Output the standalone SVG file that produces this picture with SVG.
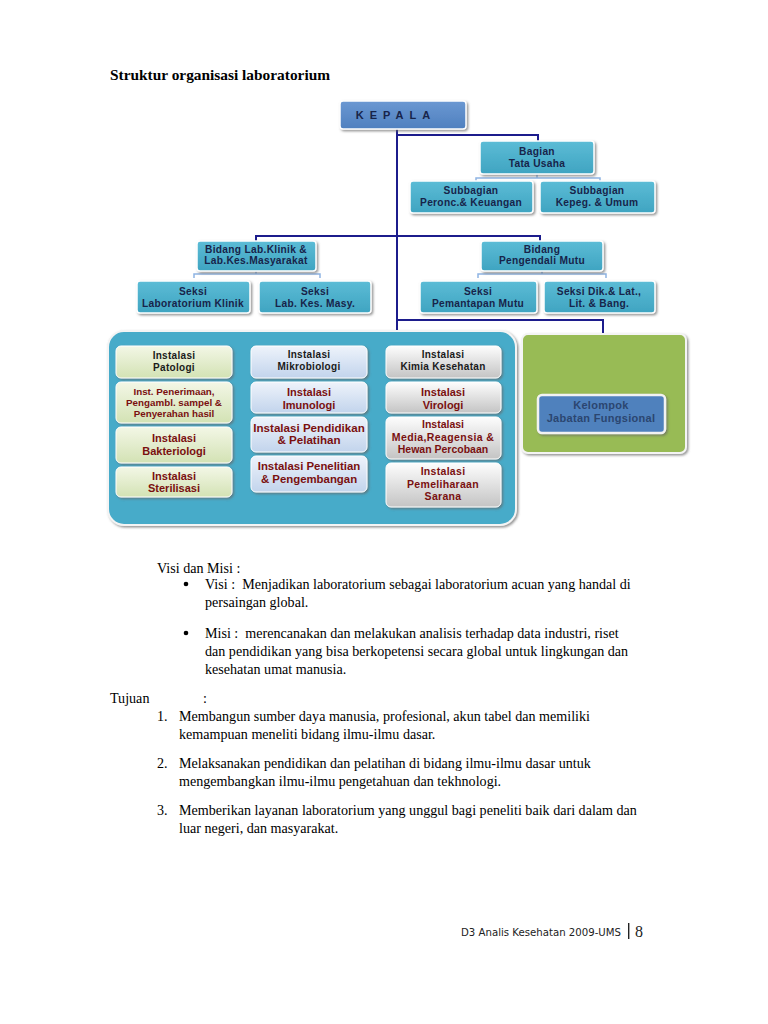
<svg xmlns="http://www.w3.org/2000/svg" width="768" height="1024" viewBox="0 0 768 1024">
<style>
.serif{font-family:"Liberation Serif","Times New Roman",serif;fill:#000;font-size:14.1px}
.lbl{font-family:"Liberation Sans",Arial,sans-serif;font-weight:bold;text-anchor:middle}
.navy{fill:#17244a;font-size:10.2px;letter-spacing:0.3px}
.blk{fill:#1a1a1a;font-size:10px;letter-spacing:0.3px}
.red{fill:#7a1010}
.teal{fill:url(#gTeal);stroke:#fff;stroke-width:1.5}
.cg{fill:url(#gGreen);stroke:#fff;stroke-width:1}
.cb{fill:url(#gBlue);stroke:#fff;stroke-width:1}
.cy{fill:url(#gGray);stroke:#fff;stroke-width:1}
.trunk{stroke:#1c1c8c;stroke-width:2;fill:none}
.brk{stroke:#8fb4e3;stroke-width:1.5;fill:none}
</style>
<defs>
<filter id="sh" x="-10%" y="-10%" width="130%" height="140%">
<feDropShadow dx="1.5" dy="1.5" stdDeviation="1" flood-color="#666" flood-opacity="0.7"/>
</filter>
<linearGradient id="gTeal" x1="0" y1="0" x2="0" y2="1"><stop offset="0" stop-color="#5cbcd6"/><stop offset="1" stop-color="#3fa4c1"/></linearGradient>
<linearGradient id="gKep" x1="0" y1="0" x2="0" y2="1"><stop offset="0" stop-color="#6b98d2"/><stop offset="1" stop-color="#4f80bf"/></linearGradient>
<linearGradient id="gGreen" x1="0" y1="0" x2="0" y2="1"><stop offset="0" stop-color="#f3f7e6"/><stop offset="1" stop-color="#d3e2b4"/></linearGradient>
<linearGradient id="gBlue" x1="0" y1="0" x2="0" y2="1"><stop offset="0" stop-color="#eef3fb"/><stop offset="1" stop-color="#c2d4ec"/></linearGradient>
<linearGradient id="gGray" x1="0" y1="0" x2="0" y2="1"><stop offset="0" stop-color="#fdfdfd"/><stop offset="1" stop-color="#c4c4c4"/></linearGradient>
</defs>
<rect width="768" height="1024" fill="#fff"/>
<text class="serif" x="110" y="80" font-weight="bold" font-size="15" textLength="220" lengthAdjust="spacingAndGlyphs">Struktur organisasi laboratorium</text>

<g id="connectors">
<path class="trunk" d="M397 129 V331 M397 135 H538 V141 M256 241 V236 H540 V241 M397 320 H603 V335"/>
<path class="brk" d="M476 182 V178 H600 V182 M537 174 V178"/>
<path class="brk" d="M194 278 V274 H320 V278 M256 270 V274"/>
<path class="brk" d="M478 278 V274 H606 V278 M542 270 V274"/>
</g>

<g id="kepala"><rect x="340" y="101" width="126" height="28" rx="3" fill="url(#gKep)" stroke="#fff" stroke-width="1.5" filter="url(#sh)"/>
<text class="lbl" x="396" y="119" fill="#17244a" font-size="11" letter-spacing="6">KEPALA</text></g>

<g id="bagian-tu"><rect class="teal" x="480" y="141" width="114" height="33" rx="3" filter="url(#sh)"/>
<text class="lbl navy" x="537" y="155">Bagian</text><text class="lbl navy" x="537" y="167">Tata Usaha</text></g>

<g id="sub-keuangan"><rect class="teal" x="410" y="181" width="123" height="32" rx="3" filter="url(#sh)"/>
<text class="lbl navy" x="471" y="194">Subbagian</text><text class="lbl navy" x="471" y="206">Peronc.&amp; Keuangan</text></g>

<g id="sub-umum"><rect class="teal" x="540" y="181" width="115" height="32" rx="3" filter="url(#sh)"/>
<text class="lbl navy" x="597" y="194">Subbagian</text><text class="lbl navy" x="597" y="206">Kepeg. &amp; Umum</text></g>

<g id="bidang-lab"><rect class="teal" x="197" y="241" width="119" height="30" rx="3" filter="url(#sh)"/>
<text class="lbl navy" x="256" y="253">Bidang Lab.Klinik &amp;</text><text class="lbl navy" x="256" y="264">Lab.Kes.Masyarakat</text></g>

<g id="bidang-mutu"><rect class="teal" x="481" y="241" width="122" height="30" rx="3" filter="url(#sh)"/>
<text class="lbl navy" x="542" y="253">Bidang</text><text class="lbl navy" x="542" y="264">Pengendali Mutu</text></g>

<g id="seksi-klinik"><rect class="teal" x="137" y="281" width="113" height="32" rx="3" filter="url(#sh)"/>
<text class="lbl navy" x="193" y="295">Seksi</text><text class="lbl navy" x="193" y="307">Laboratorium Klinik</text></g>

<g id="seksi-masy"><rect class="teal" x="259" y="281" width="112" height="32" rx="3" filter="url(#sh)"/>
<text class="lbl navy" x="315" y="295">Seksi</text><text class="lbl navy" x="315" y="307">Lab. Kes. Masy.</text></g>

<g id="seksi-pemantapan"><rect class="teal" x="420" y="281" width="117" height="32" rx="3" filter="url(#sh)"/>
<text class="lbl navy" x="478" y="295" font-size="8.5">Seksi</text><text class="lbl navy" x="478" y="307" font-size="9.5">Pemantapan Mutu</text></g>

<g id="seksi-dik"><rect class="teal" x="544" y="281" width="111" height="32" rx="3" filter="url(#sh)"/>
<text class="lbl navy" x="599" y="295">Seksi Dik.&amp; Lat.,</text><text class="lbl navy" x="599" y="307">Lit. &amp; Bang.</text></g>

<g id="panel-instalasi"><rect x="108" y="331" width="408" height="194" rx="16" fill="#47abc9" stroke="#f4f4f4" stroke-width="2" filter="url(#sh)"/></g>

<g id="panel-fungsional"><rect x="522" y="334" width="164" height="119" rx="6" fill="#98bb55" stroke="#f4f4f4" stroke-width="2" filter="url(#sh)"/></g>

<g id="kelompok"><rect x="538" y="395" width="127" height="38" rx="4" fill="#4f81bd" stroke="#f2f2f2" stroke-width="2.5" filter="url(#sh)"/>
<text class="lbl" x="601" y="409" fill="#2b4670" font-size="11" letter-spacing="0.3">Kelompok</text><text class="lbl" x="601" y="422" fill="#2b4670" font-size="11" letter-spacing="0.3">Jabatan Fungsional</text></g>

<g id="inst-patologi"><rect class="cg" x="116" y="346" width="116" height="32" rx="5" filter="url(#sh)"/>
<text class="lbl blk" x="174" y="359">Instalasi</text><text class="lbl blk" x="174" y="371">Patologi</text></g>
<g id="inst-penerimaan"><rect class="cg" x="116" y="382" width="116" height="41" rx="5" filter="url(#sh)"/>
<text class="lbl red" x="174" y="395" font-size="9.8">Inst. Penerimaan,</text><text class="lbl red" x="174" y="406" font-size="9.8">Pengambl. sampel &amp;</text><text class="lbl red" x="174" y="417" font-size="9.8">Penyerahan hasil</text></g>
<g id="inst-bakteriologi"><rect class="cg" x="116" y="427" width="116" height="36" rx="5" filter="url(#sh)"/>
<text class="lbl red" x="174" y="442" font-size="11">Instalasi</text><text class="lbl red" x="174" y="455" font-size="11">Bakteriologi</text></g>
<g id="inst-sterilisasi"><rect class="cg" x="116" y="467" width="116" height="30" rx="5" filter="url(#sh)"/>
<text class="lbl red" x="174" y="480" font-size="11">Instalasi</text><text class="lbl red" x="174" y="492" font-size="11">Sterilisasi</text></g>

<g id="inst-mikrobiologi"><rect class="cb" x="251" y="346" width="116" height="32" rx="5" filter="url(#sh)"/>
<text class="lbl blk" x="309" y="358">Instalasi</text><text class="lbl blk" x="309" y="370">Mikrobiologi</text></g>
<g id="inst-imunologi"><rect class="cb" x="251" y="382" width="116" height="31" rx="5" filter="url(#sh)"/>
<text class="lbl red" x="309" y="396" font-size="11">Instalasi</text><text class="lbl red" x="309" y="409" font-size="11">Imunologi</text></g>
<g id="inst-pendidikan"><rect class="cb" x="251" y="417" width="116" height="35" rx="5" filter="url(#sh)"/>
<text class="lbl red" x="309" y="432" font-size="11.6">Instalasi Pendidikan</text><text class="lbl red" x="309" y="444" font-size="11.6">&amp; Pelatihan</text></g>
<g id="inst-penelitian"><rect class="cb" x="251" y="456" width="116" height="36" rx="5" filter="url(#sh)"/>
<text class="lbl red" x="309" y="470" font-size="11.4">Instalasi Penelitian</text><text class="lbl red" x="309" y="483" font-size="11.4">&amp; Pengembangan</text></g>

<g id="inst-kimia"><rect class="cy" x="386" y="346" width="115" height="32" rx="5" filter="url(#sh)"/>
<text class="lbl blk" x="443" y="358">Instalasi</text><text class="lbl blk" x="443" y="370">Kimia Kesehatan</text></g>
<g id="inst-virologi"><rect class="cy" x="386" y="382" width="115" height="31" rx="5" filter="url(#sh)"/>
<text class="lbl red" x="443" y="396" font-size="11">Instalasi</text><text class="lbl red" x="443" y="409" font-size="11">Virologi</text></g>
<g id="inst-media"><rect class="cy" x="386" y="417" width="115" height="42" rx="5" filter="url(#sh)"/>
<text class="lbl red" x="443" y="428" font-size="10.5">Instalasi</text><text class="lbl red" x="443" y="441" font-size="10.5" letter-spacing="0.4">Media,Reagensia &amp;</text><text class="lbl red" x="443" y="453" font-size="10.5">Hewan Percobaan</text></g>
<g id="inst-pemeliharaan"><rect class="cy" x="386" y="463" width="115" height="44" rx="5" filter="url(#sh)"/>
<text class="lbl red" x="443" y="475" font-size="10.5" letter-spacing="0.3">Instalasi</text><text class="lbl red" x="443" y="488" font-size="10.5" letter-spacing="0.3">Pemeliharaan</text><text class="lbl red" x="443" y="500" font-size="10.5" letter-spacing="0.3">Sarana</text></g>

<g id="teks">
<text class="serif" x="157" y="573">Visi dan Misi :</text>
<circle cx="186" cy="584" r="2.3" fill="#000"/>
<text class="serif" x="205" y="589" xml:space="preserve">Visi :  Menjadikan laboratorium sebagai laboratorium acuan yang handal di</text>
<text class="serif" x="205" y="607">persaingan global.</text>
<circle cx="186" cy="633" r="2.3" fill="#000"/>
<text class="serif" x="205" y="638" xml:space="preserve">Misi :  merencanakan dan melakukan analisis terhadap data industri, riset</text>
<text class="serif" x="205" y="656">dan pendidikan yang bisa berkopetensi secara global untuk lingkungan dan</text>
<text class="serif" x="205" y="674">kesehatan umat manusia.</text>
<text class="serif" x="110" y="703">Tujuan</text>
<text class="serif" x="203" y="703">:</text>
<text class="serif" x="157" y="721">1.</text>
<text class="serif" x="179" y="721">Membangun sumber daya manusia, profesional, akun tabel dan memiliki</text>
<text class="serif" x="179" y="739">kemampuan meneliti bidang ilmu-ilmu dasar.</text>
<text class="serif" x="157" y="768">2.</text>
<text class="serif" x="179" y="768">Melaksanakan pendidikan dan pelatihan di bidang ilmu-ilmu dasar untuk</text>
<text class="serif" x="179" y="786">mengembangkan ilmu-ilmu pengetahuan dan tekhnologi.</text>
<text class="serif" x="157" y="815">3.</text>
<text class="serif" x="179" y="815">Memberikan layanan laboratorium yang unggul bagi peneliti baik dari dalam dan</text>
<text class="serif" x="179" y="833">luar negeri, dan masyarakat.</text>
<text x="461" y="936" font-family="'DejaVu Sans','Noto Sans',sans-serif" font-size="10.5" fill="#222" textLength="160" lengthAdjust="spacingAndGlyphs">D3 Analis Kesehatan 2009-UMS</text>
<rect x="628" y="923" width="1.4" height="16" fill="#222"/>
<text x="635" y="937" font-family="'Liberation Serif',serif" font-size="16" fill="#222">8</text>
</g>
</svg>
